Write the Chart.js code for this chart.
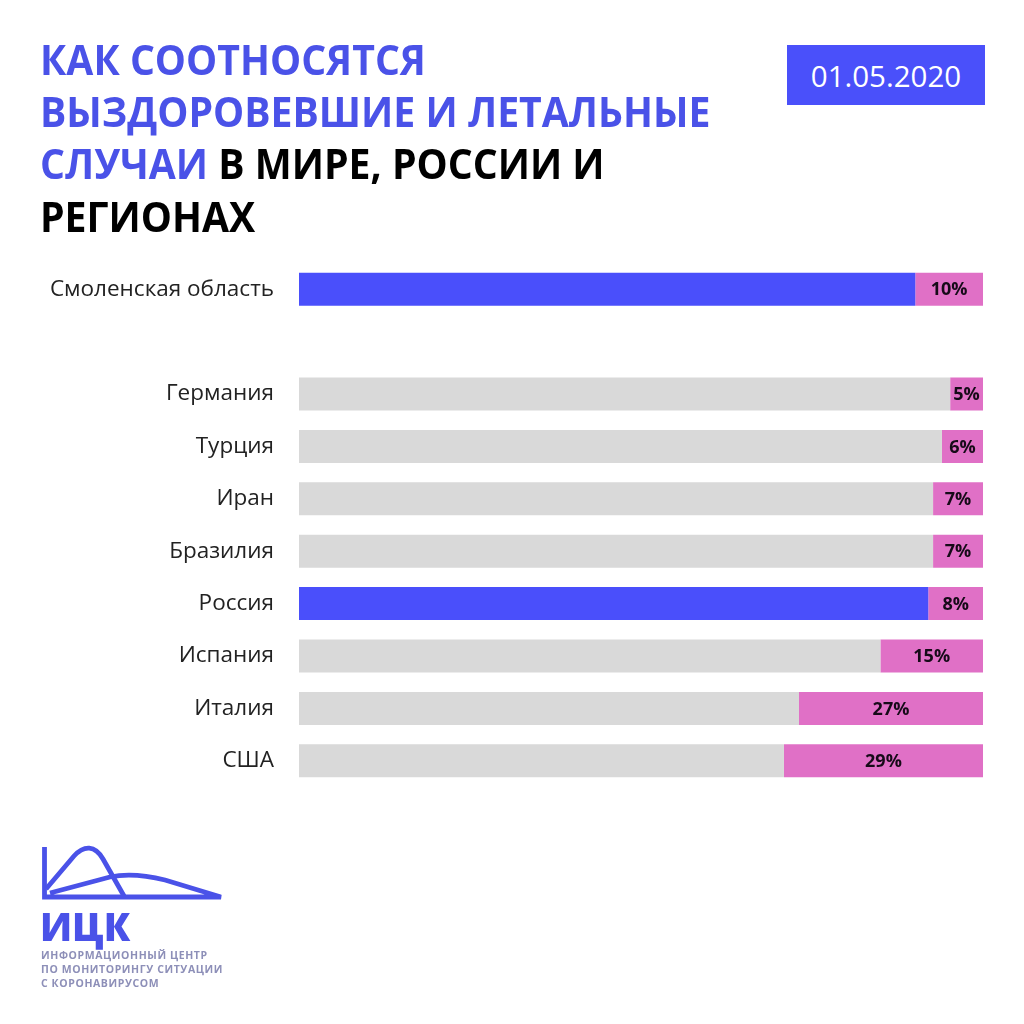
<!DOCTYPE html>
<html lang="ru">
<head>
<meta charset="utf-8">
<script src="https://cdn.jsdelivr.net/npm/chart.js@4"></script>
<style>
    html, body { margin: 0; padding: 0; background: #fff; }
    #wrap { position: relative; width: 1024px; height: 1024px; overflow: hidden; }
    #chart { position: absolute; left: 0; top: 0; }
    #title { position: absolute; left: 40px; top: 33px; font: bold 41px/52.2px "Open Sans", sans-serif; color: #000; white-space: nowrap;
        transform: scaleX(0.956); transform-origin: left top; }
    #title span { color: #4a52e8; }
    #date { position: absolute; left: 787px; top: 45px; width: 198px; height: 60px; background: #4a50fa; color: #fff;
        font: 500 29.5px/62px "Open Sans", sans-serif; text-align: center; }
    #logo { position: absolute; left: 0; top: 0; }
    #ick { position: absolute; left: 40px; top: 903px; font: 800 38px/46px "Open Sans", sans-serif; color: #4a52e8; }
    #org { position: absolute; left: 41px; top: 948px; font: bold 10.5px/14px "Open Sans", sans-serif; color: #8d8fb8; letter-spacing: 0.6px; white-space: nowrap; }
</style>
</head>
<body>
<div id="wrap">
    <canvas id="chart" width="1024" height="1024"></canvas>
    <div id="title"><span>КАК СООТНОСЯТСЯ<br>ВЫЗДОРОВЕВШИЕ И ЛЕТАЛЬНЫЕ<br>СЛУЧАИ</span> В МИРЕ, РОССИИ И<br>РЕГИОНАХ</div>
    <div id="date">01.05.2020</div>
    <svg id="logo" width="260" height="910" fill="none" stroke="#4a52e8" stroke-width="4.8">
        <path d="M44.5 847V897H221L165 880C145 875 128 873 110 877L50 893"/>
        <path d="M46 889L74 856C84 845 95 845 103 859L124 896"/>
    </svg>
    <div id="ick">ИЦК</div>
    <div id="org">ИНФОРМАЦИОННЫЙ ЦЕНТР<br>ПО МОНИТОРИНГУ СИТУАЦИИ<br>С КОРОНАВИРУСОМ</div>
</div>
<script>
var categories = ["Смоленская область", "", "Германия", "Турция", "Иран", "Бразилия", "Россия", "Испания", "Италия", "США"];
var recovered = [90.1, null, 95.2, 94, 92.7, 92.7, 92, 85, 73.1, 70.9];
var fatal = [9.9, null, 4.8, 6, 7.3, 7.3, 8, 15, 26.9, 29.1];
var fatalLabels = ["10%", "", "5%", "6%", "7%", "7%", "8%", "15%", "27%", "29%"];
var highlighted = ["Смоленская область", "Россия"];

var recoveredColors = categories.map(function (c) {
    return highlighted.indexOf(c) >= 0 ? "#4a4ffb" : "#d9d9d9";
});

// подписи процентов по центру розовых сегментов
var fatalLabelPlugin = {
    id: "fatalLabels",
    afterDatasetsDraw: function (chart) {
        var ctx = chart.ctx;
        var bars = chart.getDatasetMeta(1).data;
        ctx.save();
        ctx.font = "bold 18px 'Open Sans', sans-serif";
        ctx.fillStyle = "#160a18";
        ctx.textAlign = "center";
        ctx.textBaseline = "middle";
        bars.forEach(function (bar, i) {
            if (!fatalLabels[i]) return;
            var c = bar.getCenterPoint();
            ctx.fillText(fatalLabels[i], c.x, c.y + 1);
        });
        ctx.restore();
    }
};

new Chart(document.getElementById("chart"), {
    type: "bar",
    data: {
        labels: categories,
        datasets: [
            { label: "Выздоровевшие", data: recovered, backgroundColor: recoveredColors },
            { label: "Летальные", data: fatal, backgroundColor: "#e070c6" }
        ]
    },
    options: {
        indexAxis: "y",
        responsive: false,
        animation: false,
        layout: { padding: { left: 0, top: 263, right: 41, bottom: 237 } },
        datasets: { bar: { categoryPercentage: 1, barPercentage: 0.63 } },
        plugins: { legend: { display: false }, tooltip: { enabled: false } },
        scales: {
            x: { stacked: true, min: 0, max: 100, display: false },
            y: {
                stacked: true,
                afterFit: function (scale) { scale.width = 299; },
                grid: { display: false, drawTicks: false },
                border: { display: false },
                ticks: { color: "#222", padding: 25, font: { family: "'Open Sans', sans-serif", size: 22.5 } }
            }
        }
    },
    plugins: [fatalLabelPlugin]
});
</script>
</body>
</html>
